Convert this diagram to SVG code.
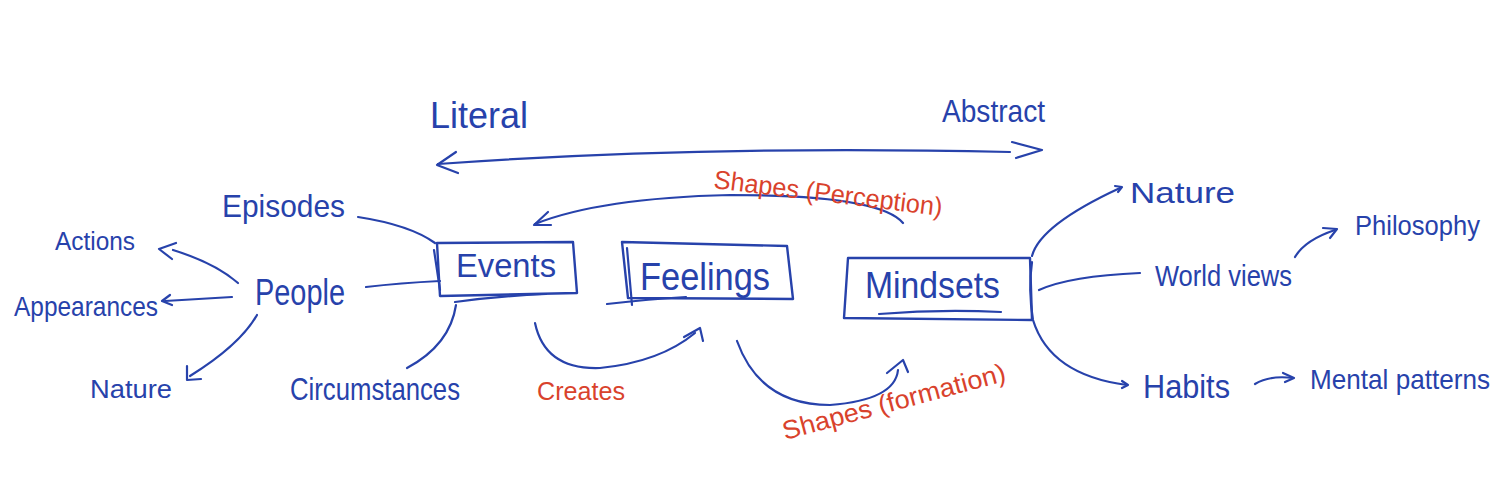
<svg xmlns="http://www.w3.org/2000/svg" width="1500" height="484" viewBox="0 0 1500 484">
<style>
.b{fill:#2742ab;font-family:"Liberation Sans",Arial,sans-serif}
.r{fill:#d9422c;font-family:"Liberation Sans",Arial,sans-serif}
.ln{fill:none;stroke:#2742ab;stroke-width:2.2;stroke-linecap:round;stroke-linejoin:round}
.bx{fill:none;stroke:#2742ab;stroke-width:2.4;stroke-linejoin:round}
</style>
<rect width="1500" height="484" fill="#ffffff"/>
<g id="axis">
<text class="b" x="430" y="128" font-size="36" textLength="98" lengthAdjust="spacingAndGlyphs">Literal</text>
<text class="b" x="942" y="122" font-size="32" textLength="103" lengthAdjust="spacingAndGlyphs">Abstract</text>
</g>
<g id="node-events">
<path class="bx" d="M437 243 L573 242 L577 293 L440 296 Z"/>
<path class="ln" d="M434 250 L440 290"/>
<text class="b" x="456" y="277" font-size="34" textLength="100" lengthAdjust="spacingAndGlyphs">Events</text>
<path class="ln" d="M455 302 Q500 296 546 294"/>
</g>
<g id="node-feelings">
<path class="bx" d="M622 242 L787 246 L793 299 L628 298 Z"/>
<path class="ln" d="M627 248 L632 305"/>
<text class="b" x="640" y="290" font-size="38" textLength="130" lengthAdjust="spacingAndGlyphs">Feelings</text>
<path class="ln" d="M607 304 Q650 299 686 297"/>
</g>
<g id="node-mindsets">
<path class="bx" d="M848 258 L1030 258 L1032 320 L844 318 Z"/>
<text class="b" x="865" y="298" font-size="36" textLength="135" lengthAdjust="spacingAndGlyphs">Mindsets</text>
<path class="ln" d="M879 314 Q940 309 1001 312"/>
</g>
<g id="node-people"><text class="b" x="255" y="305" font-size="36" textLength="90" lengthAdjust="spacingAndGlyphs">People</text></g>
<g id="node-episodes"><text class="b" x="222" y="217" font-size="32" textLength="123" lengthAdjust="spacingAndGlyphs">Episodes</text></g>
<g id="node-actions"><text class="b" x="55" y="250" font-size="26" textLength="80" lengthAdjust="spacingAndGlyphs">Actions</text></g>
<g id="node-appearances"><text class="b" x="14" y="316" font-size="28" textLength="144" lengthAdjust="spacingAndGlyphs">Appearances</text></g>
<g id="node-nature-left"><text class="b" x="90" y="398" font-size="26" textLength="82" lengthAdjust="spacingAndGlyphs">Nature</text></g>
<g id="node-circumstances"><text class="b" x="290" y="400" font-size="32" textLength="170" lengthAdjust="spacingAndGlyphs">Circumstances</text></g>
<g id="node-nature-right"><text class="b" x="1130" y="203" font-size="30" textLength="105" lengthAdjust="spacingAndGlyphs">Nature</text></g>
<g id="node-worldviews"><text class="b" x="1155" y="286" font-size="30" textLength="137" lengthAdjust="spacingAndGlyphs">World views</text></g>
<g id="node-philosophy"><text class="b" x="1355" y="235" font-size="28" textLength="125" lengthAdjust="spacingAndGlyphs">Philosophy</text></g>
<g id="node-habits"><text class="b" x="1143" y="398" font-size="34" textLength="87" lengthAdjust="spacingAndGlyphs">Habits</text></g>
<g id="node-mentalpatterns"><text class="b" x="1310" y="389" font-size="28" textLength="180" lengthAdjust="spacingAndGlyphs">Mental patterns</text></g>
<g id="connectors">
<path class="ln" d="M438 164 Q700 145 1010 152"/>
<path class="ln" d="M456 152 L437 165 L458 173"/>
<path class="ln" d="M1012 142 L1042 150 L1016 158"/>
<path class="ln" d="M903 223 Q880 195 730 195 Q600 198 535 224"/>
<path class="ln" d="M548 212 L534 225 L551 225"/>
<path class="ln" d="M535 323 Q545 370 600 368 Q660 362 695 333"/>
<path class="ln" d="M684 337 L700 328 L703 341"/>
<path class="ln" d="M737 341 Q760 405 830 405 Q895 400 898 370"/>
<path class="ln" d="M887 373 L903 360 L908 372"/>
<path class="ln" d="M358 217 Q410 225 435 243"/>
<path class="ln" d="M366 287 Q400 283 440 281"/>
<path class="ln" d="M456 305 Q450 345 407 368"/>
<path class="ln" d="M238 283 Q215 263 173 250"/>
<path class="ln" d="M176 243 L159 249 L172 259"/>
<path class="ln" d="M232 297 L165 301"/>
<path class="ln" d="M170 295 L162 301 L172 305"/>
<path class="ln" d="M257 315 Q240 345 190 376"/>
<path class="ln" d="M187 366 L187 380 L201 379"/>
<path class="ln" d="M1032 256 Q1040 225 1120 188"/>
<path class="ln" d="M1115 186 L1122 187 L1118 192"/>
<path class="ln" d="M1039 290 Q1070 276 1140 273"/>
<path class="ln" d="M1032 262 Q1028 290 1033 320 Q1050 375 1127 385"/>
<path class="ln" d="M1122 381 L1128 385 L1122 388"/>
<path class="ln" d="M1295 257 Q1305 240 1335 230"/>
<path class="ln" d="M1323 228 L1337 229 L1330 238"/>
<path class="ln" d="M1255 384 Q1270 375 1293 378"/>
<path class="ln" d="M1283 373 L1294 378 L1285 382"/>
</g>
<g id="labels">
<text class="r" x="713" y="188" font-size="26" textLength="230" lengthAdjust="spacingAndGlyphs" transform="rotate(7 713 188)">Shapes (Perception)</text>
<text class="r" x="537" y="400" font-size="26" textLength="88" lengthAdjust="spacingAndGlyphs">Creates</text>
<text class="r" x="785" y="440" font-size="26" textLength="230" lengthAdjust="spacingAndGlyphs" transform="rotate(-15 785 440)">Shapes (formation)</text>
</g>
</svg>
